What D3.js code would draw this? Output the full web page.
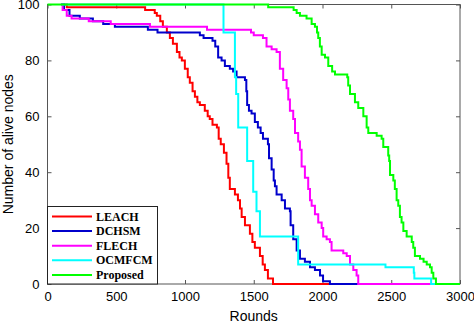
<!DOCTYPE html>
<html>
<head>
<meta charset="utf-8">
<script src="https://cdn.jsdelivr.net/npm/d3@7"></script>
<style>
  html, body { margin: 0; padding: 0; background: #fff; }
  svg { display: block; }
  .tick text { font-family: "Liberation Sans", Arial, sans-serif; font-size: 13px; fill: #000; }
</style>
</head>
<body>
<svg id="chart" width="474" height="323"></svg>
<script>
// ---- data (rounds, alive nodes) ----
const seriesNames = ["LEACH", "DCHSM", "FLECH", "OCMFCM", "Proposed"];
const seriesColors = ["#ff0000", "#0000cc", "#ff00ff", "#00ffff", "#00ff00"];

const leach = [[100,100],[140,99],[710,98],[780,97],[795,96],[820,94],[839,92],[868,90],[890,88],[912,86],[941,83],[960,81],[977,80],[999,77],[1020,74],[1035,72],[1055,69],[1072,67],[1090,65],[1108,64],[1144,62],[1165,60],[1180,59],[1200,57],[1232,56],[1245,52],[1260,50],[1283,47],[1302,43],[1315,38],[1326,34],[1363,32],[1385,30],[1400,27],[1412,24],[1436,21],[1472,18],[1490,15],[1508,13],[1545,10],[1565,7],[1581,5],[1603,2],[1640,0],[2060,0]];

const dchsm = [[100,100],[120,98],[160,96],[235,95],[330,94],[405,93],[490,92],[730,91],[800,90],[1108,89],[1135,88],[1200,87],[1220,85],[1241,81],[1266,80],[1290,78],[1326,77],[1350,76],[1375,74],[1436,73],[1446,69],[1452,64],[1465,62],[1484,61],[1508,58],[1530,56],[1550,54],[1567,52],[1603,50],[1611,45],[1630,41],[1645,37],[1654,35],[1666,32],[1703,30],[1727,27],[1763,26],[1768,21],[1787,16],[1812,12],[1836,9],[1872,8],[1909,6],[1945,5],[1982,3],[2004,1],[2054,0],[2270,0]];

const flech = [[100,100],[110,98],[140,96],[175,95],[300,94],[460,93],[745,92],[1160,91],[1480,90],[1500,89],[1567,88],[1593,85],[1630,84],[1666,83],[1690,77],[1714,73],[1739,70],[1751,66],[1763,62],[1787,59],[1800,54],[1823,51],[1836,48],[1848,42],[1872,38],[1896,34],[1909,30],[1921,28],[1945,25],[1969,22],[1994,20],[2005,17],[2030,16],[2054,15],[2066,12],[2151,11],[2176,10],[2200,7],[2224,5],[2248,3],[2260,0],[2790,0]];

const ocmfcm = [[100,100],[1280,90],[1363,74],[1372,68],[1387,56],[1452,44],[1496,33],[1520,26],[1545,17],[1823,7],[2458,6],[2664,4],[2668,2],[2790,0],[2830,0]];

const proposed = [[0,100],[1605,99],[1790,98],[1812,97],[1836,96],[1884,95],[1921,93],[1945,92],[1960,90],[1969,88],[1981,85],[1994,82],[2018,81],[2042,78],[2070,76],[2091,75],[2180,74],[2187,71],[2200,68],[2236,65],[2260,63],[2297,60],[2321,56],[2333,54],[2394,53],[2430,52],[2442,49],[2478,46],[2485,44],[2491,39],[2515,37],[2526,34],[2539,30],[2551,28],[2563,24],[2575,22],[2588,19],[2612,17],[2649,15],[2660,13],[2672,10],[2709,9],[2735,8],[2758,7],[2782,6],[2794,4],[2806,2],[2825,0],[3000,0]];

const allSeries = [leach, dchsm, flech, ocmfcm, proposed];
const xTicks = [0, 500, 1000, 1500, 2000, 2500, 3000];
const yTicks = [0, 20, 40, 60, 80, 100];

// ---- layout ----
const L = 47.5, R = 460, T = 4.5, B = 284;
const svg = d3.select("#chart");
const x = d3.scaleLinear().domain([0, 3000]).range([L, R]);
const y = d3.scaleLinear().domain([0, 100]).range([B, T]);
const axisColor = "#555";
const fmt = d3.format("d");

function styleAxis(g) {
  g.select(".domain").remove();
  g.selectAll(".tick line").attr("stroke", axisColor).attr("stroke-width", 1);
}

svg.append("g").attr("transform", `translate(0,${B})`)
  .call(d3.axisBottom(x).tickValues(xTicks).tickSizeInner(-4).tickSizeOuter(0).tickPadding(8).tickFormat(fmt))
  .call(styleAxis);
svg.append("g").attr("transform", `translate(0,${T})`)
  .call(d3.axisTop(x).tickValues(xTicks).tickSizeInner(-4).tickSizeOuter(0).tickFormat(""))
  .call(styleAxis);
svg.append("g").attr("transform", `translate(${L},0)`)
  .call(d3.axisLeft(y).tickValues(yTicks).tickSizeInner(-4).tickSizeOuter(0).tickPadding(8).tickFormat(fmt))
  .call(styleAxis);
svg.append("g").attr("transform", `translate(${R},0)`)
  .call(d3.axisRight(y).tickValues(yTicks).tickSizeInner(-4).tickSizeOuter(0).tickFormat(""))
  .call(styleAxis);

svg.append("rect").attr("x", L).attr("y", T).attr("width", R - L).attr("height", B - T)
  .attr("fill", "none").attr("stroke", axisColor).attr("stroke-width", 1);

// axis titles
svg.append("text").attr("x", (L + R) / 2).attr("y", 321)
  .attr("text-anchor", "middle")
  .style("font-family", "'Liberation Sans', Arial, sans-serif").style("font-size", "14px")
  .text("Rounds");
svg.append("text").attr("transform", `translate(13,${(T + B) / 2}) rotate(-90)`)
  .attr("text-anchor", "middle")
  .style("font-family", "'Liberation Sans', Arial, sans-serif").style("font-size", "14px")
  .text("Number of alive nodes");

// lines
const line = d3.line().x(d => x(d[0])).y(d => y(d[1])).curve(d3.curveStepAfter);
allSeries.forEach((s, i) => {
  svg.append("path").datum(s).attr("d", line)
    .attr("fill", "none").attr("stroke", seriesColors[i]).attr("stroke-width", 2)
    .attr("stroke-linejoin", "miter");
});

// legend
const lg = svg.append("g");
lg.append("rect").attr("x", L).attr("y", 206.5).attr("width", 110).attr("height", B - 206.5)
  .attr("fill", "#fff").attr("stroke", "#222").attr("stroke-width", 1);
seriesNames.forEach((n, i) => {
  const yy = 216.5 + i * 14.6;
  lg.append("line").attr("x1", 52).attr("x2", 92).attr("y1", yy).attr("y2", yy)
    .attr("stroke", seriesColors[i]).attr("stroke-width", 2);
  lg.append("text").attr("x", 96).attr("y", yy + 4)
    .style("font-family", "'Liberation Serif', 'Times New Roman', serif")
    .style("font-size", "12px").style("font-weight", "bold")
    .text(n);
});
</script>
</body>
</html>
